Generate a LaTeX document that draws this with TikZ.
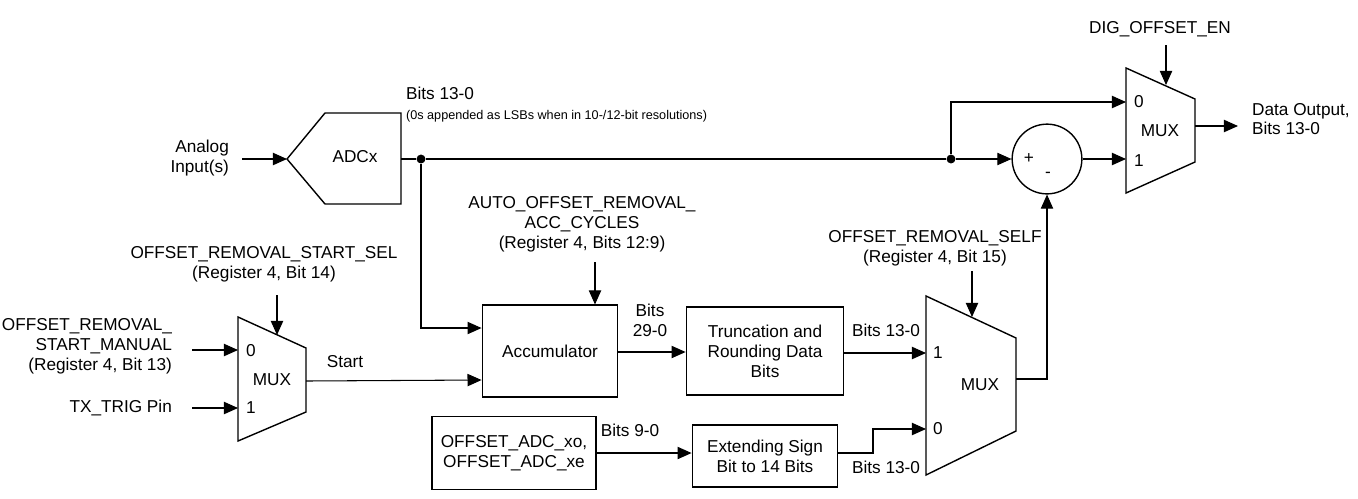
\documentclass[tikz,border=0pt]{standalone}
\usepackage{fontspec}
\setmainfont{Liberation Sans}
\usetikzlibrary{arrows.meta}
\begin{document}
\begin{tikzpicture}[x=0.02cm,y=-0.02cm,
  lbl/.style={font=\fontsize{9.8}{11.3}\selectfont,inner sep=1pt,align=center},
  sm/.style={font=\fontsize{7.2}{8}\selectfont,inner sep=1pt},
  blk/.style={draw,line width=0.8pt},
  ln/.style={line width=0.6pt},
  ar/.style={ln,-{Triangle[length=8pt,width=7pt]}},
  dot/.style={circle,fill,inner sep=1.8pt}]
\useasboundingbox (0,0) rectangle (1358,498);
% ADC
\draw[blk] (287,159) -- (325,113) -- (401,113) -- (401,204) -- (325,204) -- cycle;
\node[lbl] (adc) at (355,157) {ADCx};
\coordinate (adcin) at (287,159);
\coordinate (adcout) at (401,159);
\node[lbl,anchor=east,align=right] (ain) at (231,158) {Analog\\Input(s)};
\draw[ar] (242,159) -- (adcin);
\node[lbl,anchor=west] (b1) at (404,93) {Bits 13-0};
\node[sm,anchor=west] (b1s) at (404,116) {(0s appended as LSBs when in 10-/12-bit resolutions)};
\node[dot] (d1) at (421,159) {};
\node[dot] (d2) at (951,159) {};
% subtractor
\node[draw,circle,line width=0.8pt,minimum size=70*0.567pt,inner sep=0pt] (sub) at (1047,159) {};
\node[lbl] at (1029,159) {+};
\node[lbl] at (1048,175) {-};
\draw[ln] (adcout) -- (d1) -- (d2);
\draw[ar] (d2) -- (sub.west);
% top mux
\draw[blk] (1126,68) -- (1195,99) -- (1195,162) -- (1126,193) -- cycle;
\node[lbl] (m1) at (1160,131) {MUX};
\node[lbl] at (1139,102) {0};
\node[lbl] at (1139,161) {1};
\coordinate (m1i0) at (1126,102);
\coordinate (m1i1) at (1126,159);
\coordinate (m1o) at (1195,126);
\coordinate (m1s) at (1166,85);
\draw[ar] (d2) |- (m1i0);
\draw[ar] (sub.east) -- (m1i1);
\node[lbl] (dig) at (1160,29) {DIG\_OFFSET\_EN};
\draw[ar] (1166,45) -- (m1s);
\coordinate (outend) at (1238,126);
\draw[ar] (m1o) -- (outend);
\node[lbl,anchor=west,align=left] (dout) at (1250,119) {Data Output,\\Bits 13-0};
% accumulator
\node[blk,minimum width=136*0.567pt,minimum height=92*0.567pt,lbl] (acc) at (550,351) {Accumulator};
\draw[ar] (d1) |- (acc.west |- 0,328);
\node[lbl] (auto) at (582,224) {AUTO\_OFFSET\_REMOVAL\_\\ACC\_CYCLES\\(Register 4, Bits 12:9)};
\draw[ar] (595,262) -- (acc.north -| 595,0);
% left mux
\draw[blk] (238,317) -- (306,348) -- (306,412) -- (238,441) -- cycle;
\node[lbl] (m2) at (272,380) {MUX};
\node[lbl] at (251,351) {0};
\node[lbl] at (251,408) {1};
\coordinate (m2i0) at (238,350);
\coordinate (m2i1) at (238,408);
\coordinate (m2s) at (277,335);
\coordinate (m2o) at (306,381);
\node[lbl,anchor=east,align=right] (man) at (174,346) {OFFSET\_REMOVAL\_\\START\_MANUAL\\(Register 4, Bit 13)};
\node[lbl,anchor=east] (tx) at (174,408) {TX\_TRIG Pin};
\draw[ar] (192,350) -- (m2i0);
\draw[ar] (192,408) -- (m2i1);
\node[lbl] (sel) at (264,264) {OFFSET\_REMOVAL\_START\_SEL\\(Register 4, Bit 14)};
\draw[ar] (277,295) -- (m2s);
\draw[ar] (m2o) -- (acc.west |- 0,380);
\node[lbl] at (345,362) {Start};
% truncation
\node[blk,minimum width=158*0.567pt,minimum height=88*0.567pt,lbl] (tr) at (765,351) {Truncation and\\Rounding Data\\Bits};
\draw[ar] (acc.east |- 0,352) -- (tr.west |- 0,352);
\node[lbl] at (650,320) {Bits\\29-0};
% right mux
\draw[blk] (926,296) -- (1016,338) -- (1016,431) -- (926,475) -- cycle;
\node[lbl] (m3) at (980,385) {MUX};
\node[lbl] at (938,353) {1};
\node[lbl] at (938,429) {0};
\coordinate (m3i1) at (926,353);
\coordinate (m3i0) at (926,429);
\coordinate (m3o) at (1016,379);
\coordinate (m3s) at (972,317);
\draw[ar] (tr.east |- 0,353) -- (m3i1);
\node[lbl] at (886,330) {Bits 13-0};
\node[lbl] (self) at (935,248) {OFFSET\_REMOVAL\_SELF\\(Register 4, Bit 15)};
\draw[ar] (972,271) -- (m3s);
\draw[ar] (m3o) -| (sub.south);
% offset adc
\node[blk,minimum width=165*0.567pt,minimum height=73*0.567pt,lbl] (oadc) at (514,453) {OFFSET\_ADC\_xo,\\OFFSET\_ADC\_xe};
\node[blk,minimum width=146*0.567pt,minimum height=62*0.567pt,lbl] (ext) at (765,456) {Extending Sign\\Bit to 14 Bits};
\draw[ar] (oadc.east) -- (ext.west |- oadc.east);
\node[lbl] at (630,430) {Bits 9-0};
\coordinate (bend) at (873,453);
\draw[ar] (ext.east |- 0,453) -- (bend) |- (m3i0);
\node[lbl] at (886,467) {Bits 13-0};
\end{tikzpicture}
\end{document}
